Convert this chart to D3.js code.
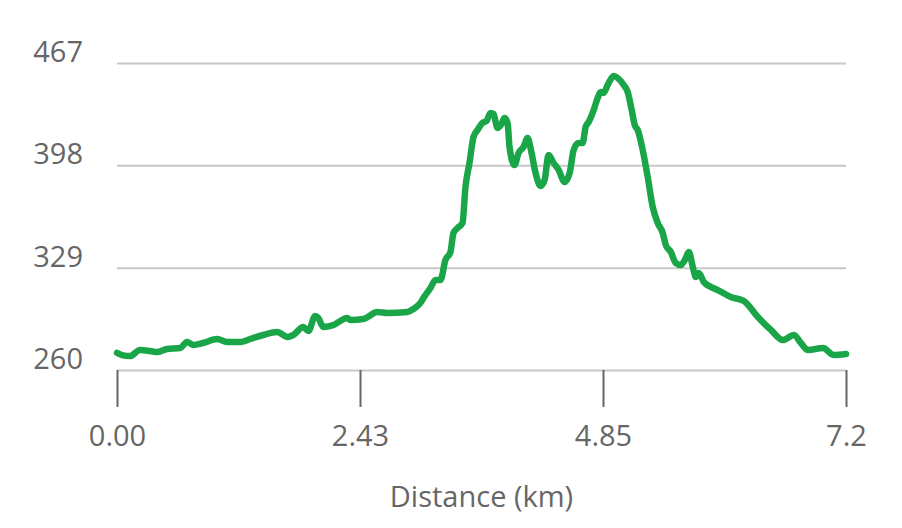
<!DOCTYPE html>
<html>
<head>
<meta charset="utf-8">
<script src="https://cdn.jsdelivr.net/npm/d3@7"></script>
<style>
  body { margin: 0; background: #fff; }
  text { font-family: "Open Sans", sans-serif; fill: #666; }
</style>
</head>
<body>
<svg id="vis"></svg>
<script>
const WIDTH = 902;
const HEIGHT = 528;
const margin = { top: 63, right: 56, bottom: 158, left: 117 };

// distance (km) and elevation (m)
const distance = [0.00, 0.05, 0.13, 0.23, 0.33, 0.40, 0.50, 0.63, 0.70, 0.76, 0.86, 1.00, 1.10, 1.23, 1.33, 1.46, 1.60, 1.70, 1.76, 1.86, 1.91, 1.98, 2.01, 2.06, 2.16, 2.30, 2.33, 2.46, 2.60, 2.70, 2.90, 2.96, 3.03, 3.06, 3.13, 3.18, 3.23, 3.28, 3.33, 3.36, 3.40, 3.45, 3.48, 3.52, 3.56, 3.60, 3.65, 3.69, 3.73, 3.76, 3.80, 3.84, 3.87, 3.90, 3.92, 3.97, 4.01, 4.06, 4.10, 4.14, 4.18, 4.23, 4.27, 4.31, 4.36, 4.41, 4.47, 4.52, 4.56, 4.61, 4.65, 4.68, 4.71, 4.76, 4.80, 4.83, 4.86, 4.90, 4.96, 5.00, 5.06, 5.10, 5.14, 5.17, 5.20, 5.25, 5.30, 5.35, 5.40, 5.45, 5.48, 5.53, 5.58, 5.63, 5.68, 5.71, 5.75, 5.78, 5.81, 5.86, 5.93, 6.00, 6.13, 6.26, 6.40, 6.53, 6.65, 6.76, 6.83, 6.90, 7.05, 7.16, 7.28];
const elevation = [271.5, 270.1, 269.4, 273.5, 272.8, 272.1, 274.2, 274.8, 278.9, 276.9, 278.2, 280.9, 278.9, 278.9, 280.9, 283.6, 285.6, 282.3, 283.6, 289.0, 286.3, 296.4, 295.1, 289.0, 290.3, 295.1, 293.7, 294.4, 299.1, 298.4, 299.1, 301.1, 305.2, 308.5, 315.3, 320.7, 320.7, 334.2, 339.6, 352.4, 355.7, 359.1, 383.4, 399.6, 417.1, 421.8, 426.6, 427.9, 433.3, 432.6, 423.2, 425.9, 429.9, 426.6, 410.4, 398.2, 406.3, 410.4, 416.4, 406.3, 392.8, 384.1, 388.1, 405.0, 399.6, 394.9, 386.8, 392.8, 408.3, 413.1, 413.1, 423.9, 427.2, 435.3, 443.4, 447.5, 446.8, 452.2, 458.2, 456.9, 452.2, 447.5, 435.3, 425.2, 421.8, 408.3, 390.1, 369.9, 359.1, 352.4, 344.3, 339.6, 332.2, 330.8, 335.5, 339.6, 329.5, 322.7, 325.4, 319.3, 316.0, 313.9, 309.2, 306.5, 295.7, 287.0, 280.2, 283.6, 278.2, 273.5, 274.8, 270.1, 270.8];

const yTicks = [260, 329, 398, 467];
const xMax = 7.28;
const xTicks = [0, xMax / 3, 2 * xMax / 3, xMax];
const xTickLabels = ["0.00", "2.43", "4.85", "7.2"];

const data = distance.map((d, i) => ({ d: d, e: elevation[i] }));

const svg = d3.select("#vis")
    .attr("width", WIDTH)
    .attr("height", HEIGHT);

const innerW = WIDTH - margin.left - margin.right;
const innerH = HEIGHT - margin.top - margin.bottom;

const x = d3.scaleLinear().domain([0, xMax]).range([margin.left, margin.left + innerW]);
const y = d3.scaleLinear().domain([260, 467]).range([margin.top + innerH, margin.top]);

// gridlines + y labels
const yAxis = d3.axisLeft(y)
    .tickValues(yTicks)
    .tickSize(-innerW)
    .tickPadding(34)
    .tickFormat(d3.format("d"));

const gy = svg.append("g")
    .attr("transform", `translate(${margin.left},0)`)
    .call(yAxis);
gy.select(".domain").remove();
gy.selectAll("line").attr("stroke", "#c8c8c8").attr("stroke-width", 2);
gy.selectAll("text")
    .attr("font-size", 29)
    .attr("dy", "-0.05em")
    .style("fill", "#666");

// x axis: ticks pointing down
const xAxis = d3.axisBottom(x)
    .tickValues(xTicks)
    .tickSize(37)
    .tickPadding(18)
    .tickFormat((d, i) => xTickLabels[i]);

const gx = svg.append("g")
    .attr("transform", `translate(0,${margin.top + innerH})`)
    .call(xAxis);
gx.select(".domain").remove();
gx.selectAll("line").attr("stroke", "#666").attr("stroke-width", 2);
gx.selectAll("text")
    .attr("font-size", 29)
    .style("fill", "#666");

// axis title
svg.append("text")
    .attr("x", margin.left + innerW / 2)
    .attr("y", 507)
    .attr("text-anchor", "middle")
    .attr("font-size", 29)
    .text("Distance (km)");

// elevation line
const line = d3.line()
    .x(p => x(p.d))
    .y(p => y(p.e))
    .curve(d3.curveMonotoneX);

svg.append("path")
    .datum(data)
    .attr("fill", "none")
    .attr("stroke", "#1aa548")
    .attr("stroke-width", 6.5)
    .attr("stroke-linejoin", "round")
    .attr("stroke-linecap", "round")
    .attr("d", line);
</script>
</body>
</html>
